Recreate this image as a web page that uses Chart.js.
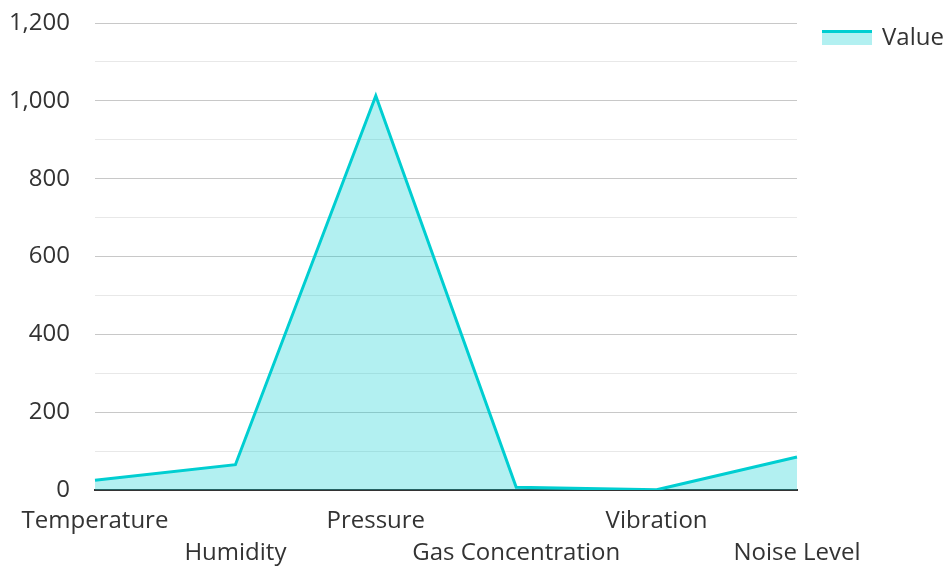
<!doctype html>
<html>
  <head>
    <script src="https://cdn.jsdelivr.net/npm/chart.js@4.4.0/dist/chart.umd.min.js"></script>
    <style>
      body { margin: 0; background: #fff; font-family: "Open Sans", sans-serif; }
      #wrap { position: relative; width: 947px; height: 566px; }
      #legend { position: absolute; left: 822px; top: 19px; display: flex; align-items: center; font-size: 24px; color: #333; }
      #swatch { width: 50px; height: 12px; border-top: 3px solid #00ced1; background: rgba(0, 206, 209, 0.3); margin-right: 10px; margin-top: 4px; }
    </style>
  </head>
  <body>
    <div id="wrap">
      <canvas id="c1" width="947" height="566"></canvas>
      <div id="legend"><div id="swatch"></div><span>Value</span></div>
    </div>
    <script>
      let categories = ["Temperature", "Humidity", "Pressure", "Gas Concentration", "Vibration", "Noise Level"];
      let values = [25, 65, 1013, 7, 0.5, 85];
      let seriesName = "Value";

      // alternate label rows like the original
      let labels = categories.map(function (c, i) { return i % 2 == 0 ? [c, ""] : ["", c]; });

      Chart.defaults.font.family = '"Open Sans", sans-serif';
      Chart.defaults.font.size = 24;
      Chart.defaults.color = "#333";

      let chart1 = new Chart(document.getElementById("c1"), {
        type: "line",
        data: {
          labels: labels,
          datasets: [{
            label: seriesName,
            data: values,
            borderColor: "#00ced1",
            backgroundColor: "rgba(0, 206, 209, 0.3)",
            borderWidth: 3,
            fill: "origin",
            tension: 0,
            pointRadius: 0
          }]
        },
        options: {
          responsive: false,
          animation: false,
          layout: { padding: { top: 23, right: 150, left: 0, bottom: 0 } },
          plugins: { legend: { display: false }, tooltip: { enabled: false } },
          scales: {
            x: {
              offset: false,
              grid: { display: false, drawTicks: false },
              border: { color: "#333", width: 2 },
              ticks: { maxRotation: 0, autoSkip: false, padding: 15, font: { lineHeight: 1.33 } },
              afterFit: function (s) { s.height = 76; }
            },
            y: {
              min: 0,
              max: 1200,
              border: { display: false },
              grid: {
                drawTicks: false,
                color: function (ctx) {
                  let v = ctx.tick.value;
                  if (v == 0) return "#333";
                  return v % 200 == 0 ? "#c8c8c8" : "#e8e8e8";
                }
              },
              ticks: {
                stepSize: 100,
                padding: 25,
                callback: function (v) { return v % 200 == 0 ? v.toLocaleString("en-US") : ""; }
              },
              afterFit: function (s) { s.width = 95; s.paddingTop = 0; s.paddingBottom = 0; }
            }
          }
        }
      });
    </script>
  </body>
</html>
